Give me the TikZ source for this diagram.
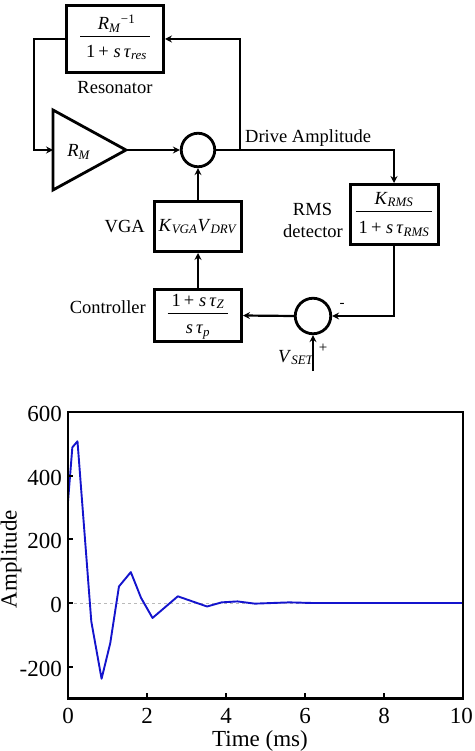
\documentclass[tikz,border=0pt]{standalone}
\usepackage{fontspec}
\setmainfont{Liberation Serif}
\usepackage{xcolor}
\usetikzlibrary{calc,positioning,arrows.meta}
\definecolor{curveblue}{RGB}{20,20,205}
\definecolor{zerogray}{RGB}{185,185,185}
\newcommand{\dfont}{\fontsize{18.5}{22}\selectfont}
\newcommand{\isub}[2]{\textit{#1}\textsubscript{\textit{#2}}}
\setlength{\arrayrulewidth}{0.9pt}

\begin{document}
\begin{tikzpicture}[x=1pt, y=-1pt,
  blk/.style={draw, line width=3pt, inner sep=0pt, font=\dfont},
  sumc/.style={draw, circle, line width=2.8pt, inner sep=0pt},
  lbl/.style={font=\dfont, inner sep=0pt},
  conn/.style={line width=2.2pt, -{Stealth[length=7pt,width=7pt,inset=2.5pt]}},
  pfont/.style={font=\fontsize{23}{27}\selectfont, inner sep=0pt},
]
  \useasboundingbox (0,0) rectangle (474,751);

  % Loop blocks
  \node[blk, minimum width=97pt, minimum height=67pt] (res) at (115,39)
    {\begin{tabular}{@{\hspace{6pt}}c@{\hspace{3pt}}}
      \isub{R}{M}\textsuperscript{−1} \\ \hline
      \rule{0pt}{20pt}1\,+ \textit{s}\,\isub{τ}{res}
    \end{tabular}};
  \node[lbl, anchor=base] (resl) at (115,94) {Resonator};

  \draw[line width=2.8pt, line join=miter] (53,110) -- (126,150) -- (53,190) -- cycle;
  \coordinate (ampin) at (53,150);
  \coordinate (ampout) at (126,150);
  \node[lbl] (amp) at (79,152) {\isub{R}{M}};

  \node[sumc, minimum size=33.5pt] (sum1) at (198,150) {};
  \coordinate (tap) at (240,150);
  \node[lbl, anchor=base west] (drv) at (245,143) {Drive Amplitude};

  \node[blk, minimum width=87pt, minimum height=50pt] (vga) at (198,226.5)
    {\isub{K}{VGA}\isub{V}{DRV}};
  \node[lbl, anchor=base east] (vgal) at (145,233) {VGA};

  \node[blk, minimum width=88pt, minimum height=60pt] (rms) at (394,214.5)
    {\begin{tabular}{@{\hspace{3pt}}c@{\hspace{3pt}}}
      \isub{K}{RMS} \\ \hline
      \rule{0pt}{22pt}1\,+ \textit{s}\,\isub{τ}{RMS}
    \end{tabular}};
  \node[lbl, anchor=base] (rmsl) at (312.5,215) {RMS};
  \node[lbl, anchor=base east] (detl) at (343,237) {detector};

  \node[blk, minimum width=87pt, minimum height=52pt] (ctrl) at (198,315.5)
    {\begin{tabular}{@{\hspace{4pt}}c@{\hspace{4pt}}}
      1\,+ \textit{s}\,\isub{τ}{Z} \\ \hline
      \rule{0pt}{20pt}\textit{s}\,\isub{τ}{p}
    \end{tabular}};
  \node[lbl, anchor=base east] (ctrll) at (146,313) {Controller};

  \node[sumc, minimum size=35.5pt] (sum2) at (313,316) {};
  \node[lbl, font=\fontsize{15}{18}\selectfont] (minus) at (342,305) {-};
  \node[lbl, font=\fontsize{15}{18}\selectfont] (plus) at (323,348) {+};
  \coordinate (vset) at (313,371);
  \node[lbl, anchor=base west] (vsetl) at (278,362) {\isub{V}{SET}};

  % Connectors
  \draw[conn] (res.west) -| ($(ampin)+(-19,0)$) -- (ampin);
  \draw[conn] (ampout) -- (sum1.west);
  \draw[conn] (sum1.east) -| (rms.north);
  \draw[conn] (tap) |- (res.east);
  \draw[conn] (vga.north) -- (sum1.south);
  \draw[conn] (ctrl.north) -- (vga.south);
  \draw[conn] (rms.south) |- (sum2.east);
  \draw[conn] (sum2.west) -- (ctrl.east);
  \draw[conn] (vset) -- (sum2.south);

  % Step response
  \begin{scope}[shift={(68,603)}, x=39.5pt, y=0.3183pt]
    \draw[zerogray, dashed, line width=0.9pt] (0,0) -- (10,0);
    \draw[curveblue, line width=1.9pt, line join=round] plot coordinates {
      (0,319) (0.11,489) (0.24,508) (0.59,-58) (0.85,-238) (1.07,-126)
      (1.29,52) (1.59,97) (1.85,16) (2.14,-47) (2.78,21) (3.52,-11)
      (3.89,2) (4.29,5) (4.73,-2) (5.6,2) (6.2,0) (10,0)};
    \draw[line width=2.4pt] (0,-300) rectangle (10,600);
    \foreach \t in {2,4,6,8}
      \draw[line width=1.8pt] (\t,-300) -- ++(0,5pt);
    \foreach \a in {-200,0,200,400}
      \draw[line width=1.8pt] (0,\a) -- ++(5pt,0);
    \foreach \t in {0,2,...,8}
      \node[pfont, anchor=base, yshift=-25pt] (xtick\t) at (\t,-300) {\t};
    \node[pfont, anchor=base east, yshift=-25pt, xshift=10pt] (xtick10) at (10,-300) {10};
    \foreach \a in {-200,0,...,600}
      \node[pfont, anchor=east, xshift=-6pt, yshift=-2pt] (ytick\a) at (0,\a) {\a};
    \node[pfont, anchor=base, yshift=-48pt] (xlab) at (4.86,-300) {Time (ms)};
  \end{scope}
  \node[pfont, rotate=90] (ylab) at (11,559) {Amplitude};
\end{tikzpicture}
\end{document}
